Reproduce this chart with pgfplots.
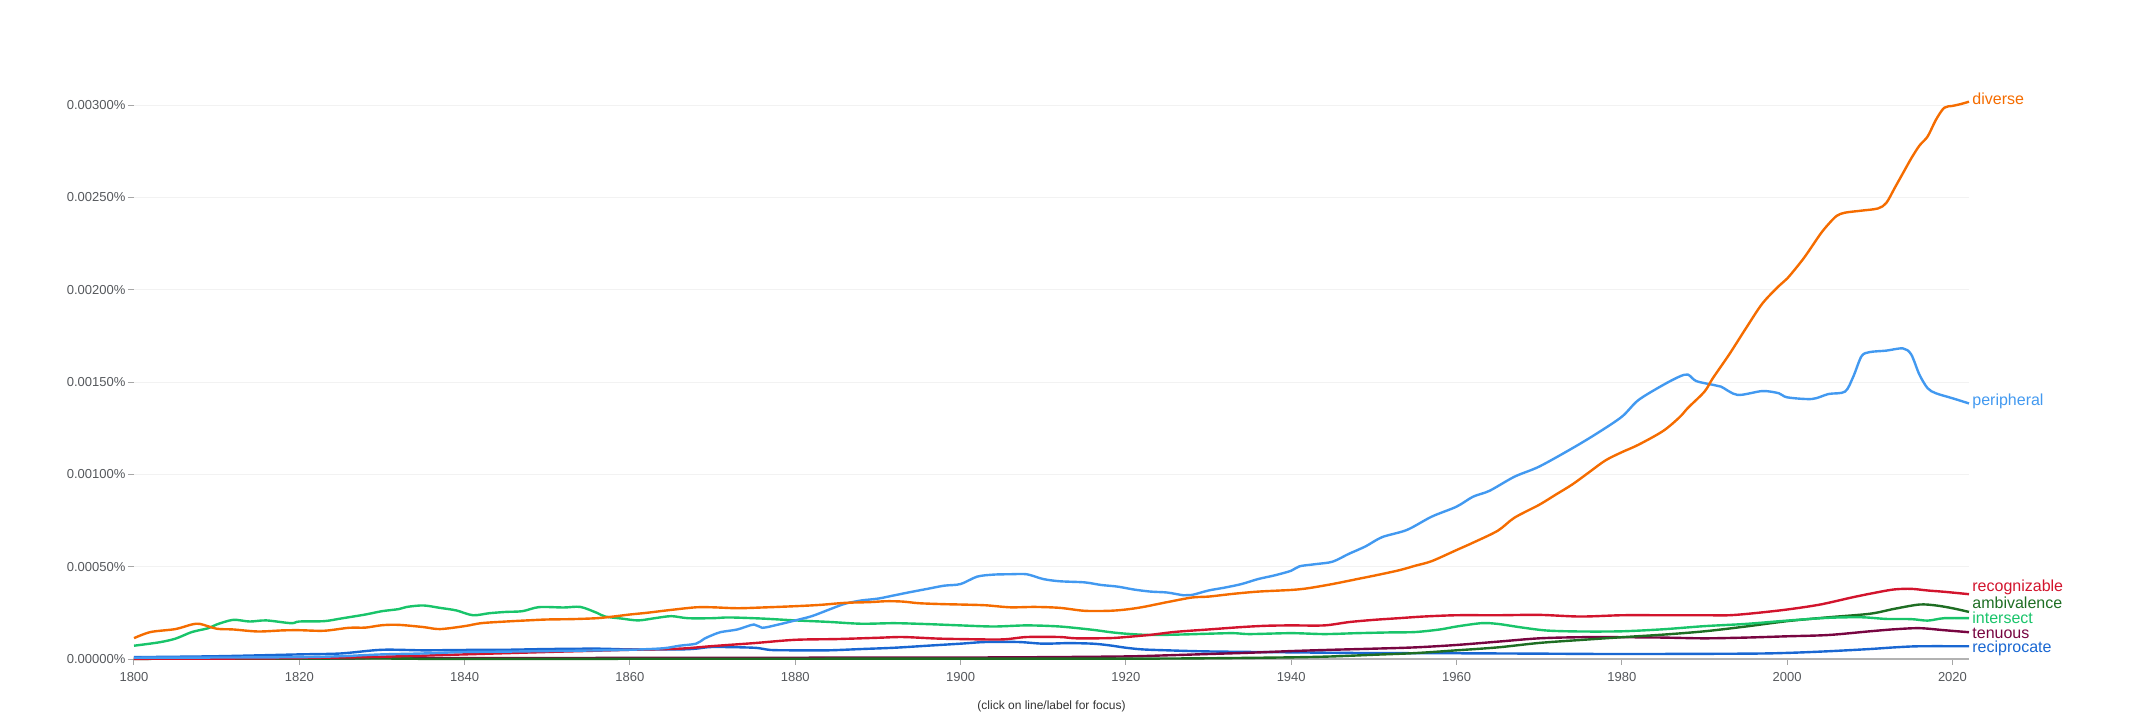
\documentclass[border=0pt]{standalone}
\usepackage{fontspec}
\setmainfont{Liberation Sans}
\usepackage{pgfplots}
\pgfplotsset{compat=1.18}
\definecolor{cDiv}{RGB}{245,108,0}
\definecolor{cPer}{RGB}{66,153,240}
\definecolor{cRec}{RGB}{210,20,45}
\definecolor{cAmb}{RGB}{30,110,35}
\definecolor{cInt}{RGB}{25,196,106}
\definecolor{cTen}{RGB}{120,5,65}
\definecolor{cRcp}{RGB}{25,103,210}
\definecolor{tickgray}{RGB}{85,88,92}
\begin{document}
\begin{tikzpicture}
\path[use as bounding box] (-67pt,-33pt) rectangle (1005pt,329.5pt);
\begin{axis}[
  at={(0,0)}, anchor=south west,
  scale only axis, width=917.5pt, height=277pt,
  xmin=1800, xmax=2022, ymin=0, ymax=0.003,
  clip=false,
  axis x line*=bottom, axis y line*=left,
  y axis line style={draw=none},
  x axis line style={draw=gray!60, line width=0.8pt},
  xtick={1800,1820,...,2020},
  xticklabels={1800,1820,1840,1860,1880,1900,1920,1940,1960,1980,2000,2020},
  ytick={0,0.0005,0.001,0.0015,0.002,0.0025,0.003},
  yticklabels={0.00000\%,0.00050\%,0.00100\%,0.00150\%,0.00200\%,0.00250\%,0.00300\%},
  scaled y ticks=false,
  tick align=outside, major tick length=3pt,
  tick style={draw=gray!70, line width=0.5pt},
  ymajorgrids, grid style={draw=gray!10, line width=0.5pt},
  tick label style={font=\fontsize{6.5}{7}\selectfont, text=tickgray},
  yticklabel style={xshift=2.2pt},
  every axis plot/.append style={line width=1.2pt, smooth, no markers},
]
% reciprocate
\addplot[cRcp] coordinates {
(1800,0.000010)(1810,0.000015)(1820,0.000025)(1825,0.000030)(1830,0.000050)(1835,0.000047)
(1840,0.000049)(1845,0.000050)(1850,0.000054)(1856,0.000056)(1860,0.000052)(1866,0.000052)
(1868,0.000056)(1870,0.000065)(1875,0.000061)(1877,0.000049)(1880,0.000047)(1884,0.000047)
(1888,0.000054)(1892,0.000061)(1896,0.000072)(1900,0.000083)(1903,0.000092)(1907,0.000092)
(1910,0.000083)(1913,0.000086)(1916,0.000083)(1918,0.000074)(1920,0.000061)(1922,0.000052)
(1925,0.000047)(1930,0.000041)(1940,0.000036)(1950,0.000032)(1960,0.000031)(1970,0.000029)
(1980,0.000027)(1995,0.000029)(2000,0.000033)(2005,0.000042)(2010,0.000054)(2013,0.000063)
(2016,0.000069)(2022,0.000069)};
% tenuous
\addplot[cTen] coordinates {
(1800,0.000002)(1825,0.000003)(1830,0.000010)(1834,0.000012)(1837,0.000005)(1860,0.000006)
(1880,0.000007)(1900,0.000008)(1910,0.000010)(1920,0.000014)(1925,0.000020)(1930,0.000027)
(1935,0.000034)(1940,0.000043)(1945,0.000050)(1950,0.000056)(1955,0.000063)(1960,0.000076)
(1965,0.000094)(1970,0.000112)(1975,0.000118)(1980,0.000118)(1985,0.000116)(1990,0.000112)
(1995,0.000116)(2000,0.000123)(2005,0.000130)(2010,0.000150)(2013,0.000161)(2016,0.000167)
(2019,0.000156)(2022,0.000145)};
% ambivalence
\addplot[cAmb] coordinates {
(1800,0.000001)(1830,0.000003)(1833,0.000005)(1836,0.000001)(1900,0.000002)(1920,0.000002)
(1930,0.000004)(1940,0.000009)(1945,0.000014)(1950,0.000023)(1955,0.000032)(1960,0.000047)
(1965,0.000063)(1970,0.000087)(1975,0.000103)(1980,0.000118)(1985,0.000132)(1990,0.000150)
(1995,0.000176)(2000,0.000205)(2005,0.000226)(2010,0.000245)(2013,0.000272)(2016,0.000295)
(2018,0.000290)(2020,0.000275)(2022,0.000255)};
% intersect
\addplot[cInt] coordinates {
(1800,0.000072)(1803,0.000090)(1805,0.000110)(1807,0.000146)(1809,0.000167)(1810,0.000187)
(1812,0.000212)(1814,0.000203)(1816,0.000209)(1819,0.000194)(1820,0.000203)(1823,0.000205)
(1825,0.000219)(1828,0.000241)(1830,0.000259)(1832,0.000270)(1833,0.000282)(1835,0.000290)
(1837,0.000277)(1839,0.000263)(1841,0.000237)(1843,0.000248)(1845,0.000255)(1847,0.000259)
(1849,0.000281)(1852,0.000279)(1854,0.000282)(1856,0.000250)(1857,0.000230)(1859,0.000219)
(1861,0.000209)(1863,0.000221)(1865,0.000232)(1867,0.000221)(1870,0.000221)(1872,0.000225)
(1876,0.000219)(1880,0.000209)(1884,0.000201)(1888,0.000191)(1892,0.000194)(1896,0.000189)
(1900,0.000182)(1904,0.000176)(1908,0.000182)(1912,0.000176)(1916,0.000158)(1918,0.000146)
(1920,0.000137)(1923,0.000130)(1927,0.000133)(1930,0.000137)(1933,0.000140)(1935,0.000135)
(1940,0.000140)(1944,0.000135)(1948,0.000140)(1952,0.000144)(1955,0.000146)(1958,0.000160)
(1960,0.000176)(1963,0.000194)(1965,0.000190)(1968,0.000170)(1971,0.000154)(1975,0.000149)
(1980,0.000150)(1985,0.000161)(1990,0.000178)(1995,0.000190)(2000,0.000208)(2005,0.000223)
(2009,0.000226)(2012,0.000217)(2015,0.000216)(2017,0.000208)(2019,0.000221)(2022,0.000221)};
% recognizable
\addplot[cRec] coordinates {
(1800,0.000001)(1810,0.000002)(1820,0.000005)(1830,0.000012)(1840,0.000025)(1850,0.000038)
(1856,0.000045)(1860,0.000050)(1866,0.000056)(1870,0.000070)(1875,0.000086)(1880,0.000104)
(1885,0.000108)(1890,0.000115)(1893,0.000119)(1897,0.000111)(1900,0.000108)(1905,0.000106)
(1908,0.000119)(1912,0.000119)(1914,0.000112)(1918,0.000113)(1920,0.000119)(1923,0.000131)
(1926,0.000147)(1930,0.000160)(1934,0.000173)(1937,0.000180)(1940,0.000182)(1944,0.000182)
(1947,0.000200)(1950,0.000212)(1953,0.000221)(1956,0.000230)(1960,0.000237)(1965,0.000237)
(1970,0.000239)(1975,0.000230)(1980,0.000237)(1985,0.000237)(1990,0.000237)(1993,0.000237)
(1996,0.000248)(2000,0.000268)(2004,0.000295)(2008,0.000335)(2011,0.000362)(2013,0.000377)
(2015,0.000380)(2017,0.000371)(2019,0.000364)(2022,0.000351)};
% peripheral
\addplot[cPer] coordinates {
(1800,0.000007)(1810,0.000008)(1820,0.000010)(1825,0.000015)(1830,0.000025)(1835,0.000030)
(1840,0.000038)(1845,0.000040)(1850,0.000043)(1855,0.000046)(1860,0.000050)(1864,0.000058)
(1866,0.000072)(1868,0.000083)(1869,0.000110)(1870,0.000130)(1871,0.000146)(1873,0.000160)
(1875,0.000187)(1876,0.000169)(1878,0.000187)(1880,0.000209)(1882,0.000232)(1884,0.000266)
(1886,0.000299)(1888,0.000317)(1890,0.000327)(1892,0.000345)(1894,0.000363)(1896,0.000380)
(1898,0.000397)(1900,0.000406)(1902,0.000446)(1904,0.000457)(1906,0.000459)(1908,0.000459)
(1910,0.000433)(1912,0.000421)(1915,0.000415)(1917,0.000401)(1919,0.000392)(1921,0.000376)
(1923,0.000365)(1925,0.000360)(1927,0.000345)(1928,0.000347)(1930,0.000371)(1932,0.000387)
(1934,0.000406)(1936,0.000433)(1938,0.000453)(1940,0.000478)(1941,0.000502)(1943,0.000514)
(1945,0.000527)(1947,0.000570)(1949,0.000610)(1951,0.000660)(1954,0.000699)(1957,0.000771)
(1960,0.000825)(1962,0.000879)(1964,0.000911)(1967,0.000987)(1970,0.001042)(1974,0.001141)
(1977,0.001222)(1980,0.001312)(1982,0.001402)(1985,0.001484)(1987,0.001530)(1988,0.001540)
(1989,0.001505)(1991,0.001485)(1992,0.001475)(1994,0.001430)(1997,0.001451)(1999,0.001439)
(2000,0.001417)(2003,0.001408)(2005,0.001435)(2007,0.001448)(2008,0.001529)(2009,0.001640)
(2010,0.001662)(2012,0.001670)(2014,0.001682)(2015,0.001650)(2016,0.001540)(2017,0.001466)
(2018,0.001439)(2020,0.001412)(2022,0.001384)};
% diverse
\addplot[cDiv] coordinates {
(1800,0.000113)(1802,0.000146)(1805,0.000162)(1807,0.000187)(1808,0.000190)(1810,0.000164)
(1812,0.000160)(1815,0.000149)(1818,0.000155)(1820,0.000156)(1823,0.000153)(1826,0.000169)
(1828,0.000170)(1830,0.000183)(1832,0.000185)(1835,0.000173)(1837,0.000162)(1840,0.000178)
(1842,0.000194)(1845,0.000203)(1848,0.000210)(1850,0.000214)(1853,0.000216)(1856,0.000221)
(1858,0.000230)(1860,0.000241)(1862,0.000250)(1865,0.000266)(1868,0.000280)(1870,0.000280)
(1873,0.000275)(1876,0.000279)(1880,0.000286)(1883,0.000293)(1886,0.000304)(1889,0.000308)
(1891,0.000313)(1893,0.000311)(1895,0.000302)(1898,0.000297)(1900,0.000295)(1903,0.000291)
(1906,0.000280)(1909,0.000282)(1912,0.000277)(1915,0.000261)(1918,0.000261)(1920,0.000268)
(1922,0.000281)(1925,0.000308)(1928,0.000333)(1930,0.000338)(1933,0.000353)(1936,0.000365)
(1940,0.000374)(1942,0.000383)(1945,0.000406)(1948,0.000433)(1950,0.000451)(1953,0.000480)
(1955,0.000505)(1957,0.000530)(1960,0.000590)(1962,0.000630)(1965,0.000695)(1967,0.000765)
(1970,0.000835)(1972,0.000890)(1974,0.000945)(1976,0.001010)(1978,0.001075)(1980,0.001120)
(1982,0.001160)(1985,0.001235)(1987,0.001310)(1988,0.001360)(1990,0.001448)(1991,0.001520)
(1993,0.001650)(1995,0.001790)(1997,0.001925)(1999,0.002020)(2000,0.002060)(2002,0.002170)
(2004,0.002300)(2005,0.002355)(2006,0.002400)(2007,0.002417)(2009,0.002428)(2011,0.002440)
(2012,0.002470)(2013,0.002550)(2014,0.002630)(2015,0.002710)(2016,0.002780)(2017,0.002830)
(2018,0.002920)(2019,0.002985)(2020,0.002995)(2021,0.003005)(2022,0.003018)};
% labels
\begin{scope}[every node/.style={anchor=west, inner sep=0pt, xshift=1.5pt, font=\fontsize{8}{9}\selectfont}]
\node[text=cDiv] at (axis cs:2022,0.003036) {diverse};
\node[text=cPer] at (axis cs:2022,0.001397) {peripheral};
\node[text=cRec] at (axis cs:2022,0.000386) {recognizable};
\node[text=cAmb] at (axis cs:2022,0.000307) {ambivalence};
\node[text=cInt] at (axis cs:2022,0.000225) {intersect};
\node[text=cTen] at (axis cs:2022,0.000139) {tenuous};
\node[text=cRcp] at (axis cs:2022,0.0000558) {reciprocate};
\end{scope}
\node[font=\fontsize{6}{7}\selectfont, text=black!80] at (axis cs:1911,0) [yshift=-23.5pt] {(click on line/label for focus)};
\end{axis}
\end{tikzpicture}
\end{document}
